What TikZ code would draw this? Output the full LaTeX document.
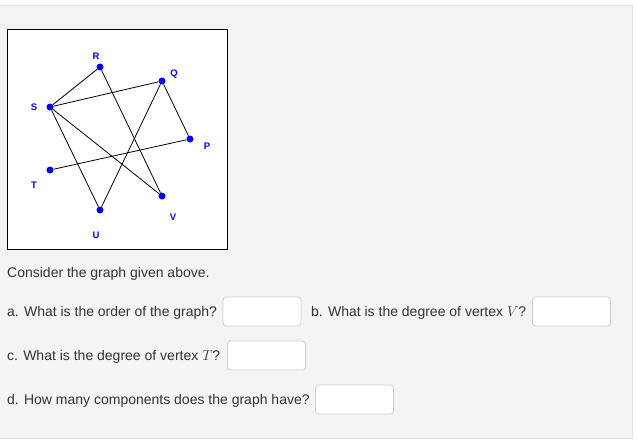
\documentclass[tikz,border=0pt]{standalone}
\usepackage{fontspec}
\setmainfont{Liberation Sans}
\definecolor{panel}{HTML}{F4F4F4}
\definecolor{panelline}{HTML}{E2E2E2}
\definecolor{boxline}{HTML}{CFCFCF}
\definecolor{txtgray}{HTML}{333333}
\definecolor{vblue}{HTML}{0000FF}
\begin{document}
\begin{tikzpicture}[x=1pt,y=-1pt,
  vtx/.style={circle,fill=vblue,inner sep=0pt,minimum size=7pt},
  lbl/.style={text=vblue,font=\fontsize{9.5}{10}\selectfont\bfseries,inner sep=0pt},
  edg/.style={draw=black,line width=0.8pt},
  txt/.style={anchor=base west,text=txtgray,font=\fontsize{14}{16}\selectfont,inner sep=0pt},
  ans/.style={draw=boxline,fill=white,rounded corners=3pt,line width=0.8pt,minimum width=78pt,minimum height=29pt,inner sep=0pt}]
\useasboundingbox (0,0) rectangle (637,440);
\fill[white] (0,0) rectangle (637,440);
\draw[panelline,fill=panel] (-1,5) -- (632,5) -- (632,438) -- (-1,438);
% graph frame
\draw[black,fill=white,line width=1pt] (7,29) rectangle (227,249);
\node[vtx] (R) at (100,67) {};
\node[vtx] (Q) at (162,81) {};
\node[vtx] (S) at (50,107) {};
\node[vtx] (P) at (190,139) {};
\node[vtx] (T) at (50,170) {};
\node[vtx] (V) at (162,196) {};
\node[vtx] (U) at (100,210) {};
\node[lbl] (lR) at (96,56) {R};
\node[lbl] (lQ) at (174,74) {Q};
\node[lbl] (lS) at (34,107) {S};
\node[lbl] (lP) at (207,146) {P};
\node[lbl] (lT) at (34,185) {T};
\node[lbl] (lV) at (173,217) {V};
\node[lbl] (lU) at (96,235) {U};
\draw[edg] (S) -- (R);
\draw[edg] (R) -- (V);
\draw[edg] (S) -- (Q);
\draw[edg] (S) -- (V);
\draw[edg] (S) -- (U);
\draw[edg] (Q) -- (U);
\draw[edg] (Q) -- (P);
\draw[edg] (P) -- (T);
% questions
\node[txt] (intro) at (7,277) {Consider the graph given above.};
\node[txt] (qa) at (7,316) {a. What is the order of the graph?};
\node[ans] (aa) at (262,311.5) {};
\node[txt] (qb) at (311,316) {b. What is the degree of vertex $V$?};
\node[ans] (ab) at (571.5,311.5) {};
\node[txt] (qc) at (7,360) {c. What is the degree of vertex $T$?};
\node[ans] (ac) at (266.5,355.5) {};
\node[txt] (qd) at (7,404) {d. How many components does the graph have?};
\node[ans] (ad) at (354.5,399.5) {};
\end{tikzpicture}
\end{document}
